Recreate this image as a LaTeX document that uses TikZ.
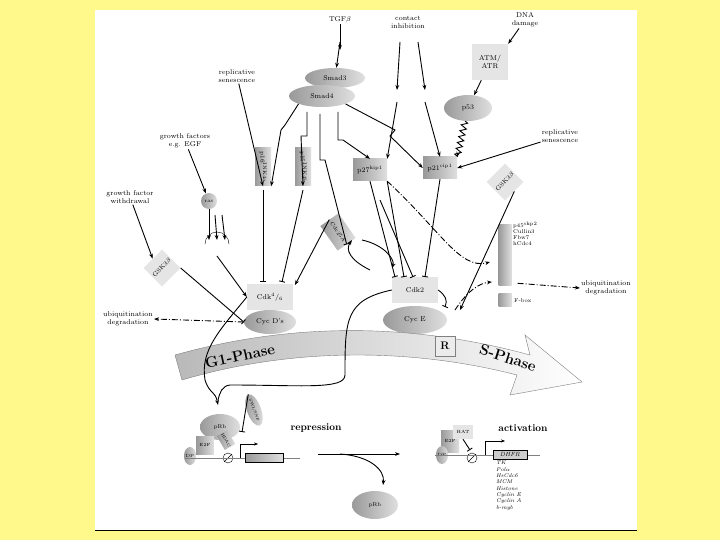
\documentclass[tikz,border=0pt]{standalone}
\usetikzlibrary{arrows.meta,shapes.geometric,decorations.pathmorphing}
\begin{document}
\begin{tikzpicture}[x=1pt,y=-1pt,font=\fontsize{7}{8}\selectfont,
  txt/.style={align=center,inner sep=1pt},
  act/.style={-{Stealth[length=5pt]},line width=0.9pt},
  inh/.style={-{Bar[width=6pt]},line width=0.9pt},
  dd/.style={-{Stealth[length=5pt]},line width=0.9pt,dash pattern=on 6pt off 2pt on 1pt off 2pt},
  prot/.style={draw=none,left color=gray!80,right color=gray!25},
  lprot/.style={draw=none,fill=gray!20},
  el/.style={ellipse,prot}]
\fill[yellow!45!white] (0,0) rectangle (720,540);
\fill[white] (95,10) rectangle (637,530);
\draw[line width=1pt] (95,530) -- (637,530);
% top inputs
\node[txt] (tgf) at (340,20) {TGF$\beta$};
\node[txt] (ci) at (408,22) {contact\\inhibition};
\node[txt] (dna) at (525,20) {DNA\\damage};
\node[el,minimum width=60,minimum height=20] (s3) at (335,78) {Smad3};
\node[el,minimum width=66,minimum height=22] (s4) at (322,96) {Smad4};
\node[lprot,minimum width=36,minimum height=36,align=center] (atm) at (490,62) {ATM/\\ATR};
\node[el,minimum width=48,minimum height=26] (p53) at (468,108) {p53};
\node[txt] (rs1) at (237,76) {replicative\\senescence};
\node[txt] (rs2) at (560,136) {replicative\\senescence};
\node[txt] (gf) at (185,141) {growth factors\\e.g. EGF};
\node[txt] (gfw) at (130,197) {growth factor\\withdrawal};
% inhibitors
\node[prot,minimum width=38,minimum height=16,inner sep=1pt,rotate=-90,font=\fontsize{6}{6}\selectfont] (p16) at (263,167) {p16$^{\mathrm{INK4a}}$};
\node[prot,minimum width=38,minimum height=16,inner sep=1pt,rotate=-90,font=\fontsize{6}{6}\selectfont] (p15) at (303,167) {p15$^{\mathrm{INK4b}}$};
\node[prot,minimum width=34,minimum height=22,inner sep=1pt] (p27) at (370,170) {p27$^{\mathrm{kip1}}$};
\node[prot,minimum width=34,minimum height=22,inner sep=1pt] (p21) at (440,168) {p21$^{\mathrm{cip1}}$};
\node[lprot,minimum width=26,minimum height=26,inner sep=0pt,rotate=45,font=\fontsize{6}{6}\selectfont] (gskr) at (505,182) {GSK3$\beta$};
\node[prot,minimum width=30,minimum height=22,inner sep=0pt,rotate=-55,font=\fontsize{5.5}{6}\selectfont] (cdc) at (338,232) {Cdc25A};
\node[circle,prot,minimum size=16,inner sep=0pt,font=\fontsize{5}{5}\selectfont] (ras) at (209,201) {ras};
\node[lprot,minimum width=26,minimum height=26,inner sep=0pt,rotate=45,font=\fontsize{6}{6}\selectfont] (gskl) at (162,268) {GSK3$\beta$};
% cdks
\node[lprot,minimum width=46,minimum height=26] (cdk4) at (270,297) {Cdk$^4/_6$};
\node[el,minimum width=52,minimum height=24] (cycd) at (270,322) {Cyc D's};
\node[lprot,minimum width=46,minimum height=26] (cdk2) at (415,290) {Cdk2};
\node[el,minimum width=64,minimum height=28] (cyce) at (415,320) {Cyc E};
% F-box complex
\node[prot,minimum width=13,minimum height=60,inner sep=0pt] (bar) at (505,255) {};
\node[prot,minimum width=13,minimum height=13,inner sep=0pt] (fbar) at (505,300) {};
\node[anchor=north west,font=\fontsize{5.5}{6}\selectfont,align=left,inner sep=0] (fl) at (513,222) {p45$^{\mathrm{skp2}}$\\Cullin3\\Fbw7\\hCdc4};
\node[anchor=west,font=\fontsize{5.5}{6}\selectfont,inner sep=0] (fb) at (514,301) {F-box};
\node[txt] (ubr) at (606,288) {ubiquitination\\degradation};
\node[txt] (ubl) at (128,319) {ubiquitination\\degradation};
% phase arrow
\shade[left color=gray!55,right color=white,draw=gray] (175,355) .. controls (300,320) and (420,325) .. (530,355) -- (525,335) -- (582,382) -- (510,395) -- (517,375) .. controls (420,350) and (300,345) .. (182,380) -- cycle;
\node[font=\bfseries\fontsize{15}{15}\selectfont,rotate=12] (g1) at (240,356) {G1-Phase};
\node[font=\bfseries\fontsize{15}{15}\selectfont,rotate=-18] (sp) at (508,358) {S-Phase};
\node[draw=gray,fill=gray!15,font=\bfseries\fontsize{11}{11}\selectfont,minimum width=20,minimum height=20] (R) at (445,346) {R};
% arrows top
\draw[act] (tgf) -- (340,50);
\draw[act] (340,42) -- (s3);
\draw[act] (400,42) -- (397,90);
\draw[act] (418,42) -- (425,90);
\draw[act] (dna) -- (atm.north east);
\draw[act] (atm) -- (p53);
\draw[act] (rs1) -- (p16.east);
\draw[act] (rs2) -- (p21.east);
\draw[act] (gf) -- (ras);
\draw[act] (gfw) -- (gskl.north);
\draw[act] (s4.south west) -- (285,125) -- (281,130) -- (p16.north east);
\draw[act] (307,112) -- (307,136) -- (301,136) -- (p15.east);
\draw[inh] (320,114) -- (320,160) -- (325,160) -- (cdc.east);
\draw[act] (338,112) -- (338,140) -- (343,140) -- (p27.north);
\draw[act] (s4.south east) -- (395,130) -- (390,136) -- (p21.west);
\draw[act] (397,102) -- (p27.north east);
\draw[act] (425,102) -- (p21.north);
\draw[act,decorate,decoration={zigzag,amplitude=3pt,segment length=6pt}] (p53) -- (p21.north east);
% ras arrows
\draw[act] (ras.south) -- (209,240);
\draw[act] (215,215) -- (217,240);
\draw[act] (222,215) -- (225,240);
\draw (205,244) arc[start angle=180,end angle=360,radius=12];
\draw[act] (217,256) -- (cdk4.west);
% inhibitions to Cdk4
\draw[inh] (263,190) -- (263,282);
\draw[inh] (303,190) -- (282,282);
\draw[act] (cdc.west) -- (295,285);
\draw[inh] (gskl.south east) -- (cycd.west);
\draw[dd] (cycd.west) -- (ubl.east);
% Cdk2
\draw[inh] (p27.south) -- (395,277);
\draw[inh] (p27.south east) -- (404,277);
\draw[inh] (380,200) -- (413,277);
\draw[inh] (p21.south) -- (425,277);
\draw[act] (370,270) .. controls (350,260) and (345,250) .. (352,240);
\draw[act] (362,240) .. controls (385,245) and (395,260) .. (392,268);
\draw[dd] (p27.south east) .. controls (440,230) and (460,270) .. (490,262);
\draw[act] (gskr.south) -- (460,310);
\draw[inh] (cdk2.east) .. controls (445,295) and (448,300) .. (445,307);
\draw[dd] (455,310) .. controls (468,290) and (480,283) .. (492,282);
\draw[dd] (fbar.north east) ++(6,-10) -- (ubr.west);
% Cdk to pRb
\draw[act] (cdk4.west) .. controls (220,330) and (200,350) .. (205,380) .. controls (210,395) and (215,390) .. (218,405);
\draw[line width=0.9pt] (cdk2.west) .. controls (345,300) and (345,320) .. (345,375) .. controls (345,390) and (300,385) .. (230,385) .. controls (222,386) and (220,392) .. (218,400);
% bottom repression
\node[el,minimum width=40,minimum height=26,font=\fontsize{5.5}{6}\selectfont] (prb1) at (220,427) {pRb};
\node[el,minimum width=30,minimum height=14,inner sep=0pt,font=\fontsize{4}{4}\selectfont,rotate=-70] (swi) at (254,410) {SWI/SNF};
\node[prot,minimum width=16,minimum height=18,font=\fontsize{4.5}{5}\selectfont] (e2f1) at (205,445) {E2F};
\node[el,minimum width=12,minimum height=18,inner sep=0pt,font=\fontsize{4.5}{5}\selectfont] (dp1) at (190,456) {DP};
\node[prot,minimum width=16,minimum height=12,inner sep=0pt,font=\fontsize{4}{4}\selectfont,rotate=-60] (hdac) at (226,440) {HDAC};
\node[circle,draw,minimum size=10,inner sep=0] (nuc1) at (228,458) {};
\draw (224,462) -- (232,454);
\draw[line width=0.8pt,gray] (185,458) -- (300,458);
\node[prot,draw=black,minimum width=38,minimum height=9,inner sep=0] (gene1) at (264,458) {};
\draw[-{Stealth[length=4pt]}] (240,458) -- (240,444) -- (258,444);
\draw[inh] (swi.west) -- (242,432);
\node[font=\bfseries\fontsize{10}{10}\selectfont] (rep) at (316,428) {repression};
\draw[act] (318,454) -- (400,454);
\draw[act] (340,454) .. controls (370,456) and (385,470) .. (383,485);
\node[el,minimum width=46,minimum height=28,font=\fontsize{5.5}{6}\selectfont] (prb2) at (375,505) {pRb};
% activation
\node[prot,minimum width=18,minimum height=22,font=\fontsize{4.5}{5}\selectfont] (e2f2) at (450,441) {E2F};
\node[el,minimum width=12,minimum height=18,inner sep=0pt,font=\fontsize{4.5}{5}\selectfont] (dp2) at (442,455) {DP};
\node[lprot,minimum width=16,minimum height=14,font=\fontsize{4.5}{5}\selectfont] (hat) at (463,432) {HAT};
\node[circle,draw,minimum size=10,inner sep=0] (nuc2) at (472,458) {};
\draw (468,462) -- (476,454);
\draw[line width=0.8pt,gray] (435,455) -- (540,455);
\draw[inh] (hat.south) -- (470,450);
\draw[-{Stealth[length=4pt]}] (485,455) -- (485,441) -- (505,441);
\node[draw,fill=gray!40,font=\itshape\fontsize{6}{6}\selectfont,minimum width=34,minimum height=9,inner sep=0] (dhfr) at (510,455) {DHFR};
\node[font=\bfseries\fontsize{10}{10}\selectfont] (actv) at (523,428) {activation};
\node[anchor=north west,align=left,font=\itshape\fontsize{5.5}{6.3}\selectfont,inner sep=0] (list) at (496,461) {TK\\Pol$\alpha$\\HsCdc6\\MCM\\Histone\\Cyclin E\\Cyclin A\\b-myb};
\end{tikzpicture}
\end{document}
